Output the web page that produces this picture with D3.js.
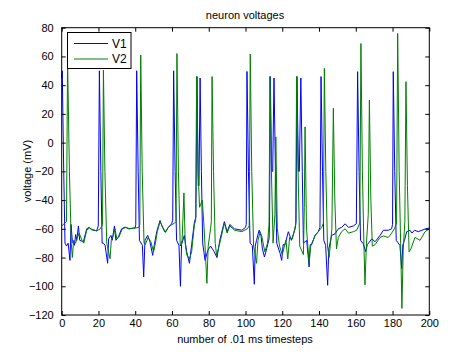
<!DOCTYPE html>
<html><head><meta charset="utf-8">
<script src="https://cdn.jsdelivr.net/npm/d3@7"></script>
<style>body{margin:0;background:#fff}svg{display:block}text{font-family:"Liberation Sans",Arial,sans-serif;fill:#000}</style>
</head><body>
<svg id="c" width="474" height="354"></svg>
<script>
const title = "neuron voltages";
const xLabel = "number of .01 ms timesteps";
const yLabel = "voltage (mV)";
const seriesNames = ["V1", "V2"];
const xTicks = [0, 20, 40, 60, 80, 100, 120, 140, 160, 180, 200];
const yTicks = [-120, -100, -80, -60, -40, -20, 0, 20, 40, 60, 80];

// V1 (blue): [timestep, voltage]
const v1 = [[0,45],[0.3,50],[1.1,-20],[1.8,-70],[2.6,-72],[3.5,-70],[4.5,-82],[5.1,-57],[5.8,-69],[6.9,-71.5],[7.6,-64],[8.2,-68],[9.1,-58],[9.8,-68],[11.8,-69],[13.6,-60],[14.9,-59],[16.3,-60.7],[19,-61.4],[19.9,-58],[20.5,50],[21.3,-20],[22,-70],[22.7,-70],[23.6,-71.5],[25,-84],[25.5,-67],[26.8,-64.6],[27.5,-68],[28.7,-58],[29.5,-68],[30.8,-65.8],[32.6,-60],[34.5,-58.8],[36.3,-60],[40,-59.3],[40.3,-57],[40.8,50],[41.6,-20],[42.3,-68],[43.9,-71.5],[44.6,-93.5],[45.3,-68],[46.8,-64.6],[48,-69],[49.5,-78.5],[50.4,-71],[51.7,-62],[53.5,-54.2],[54.8,-59],[56.2,-62.3],[58,-59],[59.8,-56.5],[60.4,-54],[60.9,50],[61.7,-20],[62.5,-68],[63.8,-71.5],[64.6,-100],[65.2,-71],[66.7,-64.6],[68,-76],[69.5,-84],[70.7,-71],[72.2,-55.4],[73,-52],[73.6,46],[74.3,-30],[74.7,-30],[75.3,45],[76,-20],[76.7,-70],[78,-82],[79.5,-75],[81,-72],[83,-76],[84.5,-80],[86,-68],[88.5,-55],[90,-62],[91.5,-57],[94,-60],[98,-61],[100,-59],[100.4,-57],[100.8,49.5],[101.6,-20],[102.5,-70],[103.7,-71.5],[104.8,-98.6],[105.3,-72],[106,-68],[107.4,-61],[108.4,-64.6],[109.2,-74],[110.3,-79.6],[111.5,-74],[112.8,-67],[113.1,-55],[113.5,46],[114.2,-20],[114.8,-20],[115.5,45],[116.3,-20],[117,-70],[118.8,-77],[119.7,-82],[120.5,-71],[121.5,-71],[123.3,-62],[125,-68],[127,-60],[127.5,-55],[128,46],[128.8,-20],[129.3,-20],[130.1,45],[130.9,-20],[131.5,-70],[133.3,-68],[134.6,-86.5],[135.2,-71],[136,-71],[137.8,-64.6],[139.6,-62],[140.5,-59],[141.1,46],[141.9,-20],[142.6,-68],[143.6,-71.5],[144.7,-99.3],[145.3,-74],[146.9,-64.6],[148.7,-63.5],[150.5,-60],[152.3,-59],[154.2,-56.5],[156,-59],[158.7,-58],[160.3,-56.5],[161,49.4],[161.8,-20],[162.6,-68],[164.1,-70.5],[165.4,-76],[166.3,-71],[168.7,-67],[170.5,-69],[173.2,-64.6],[175,-61],[177.7,-61],[179.5,-60],[180,-57],[180.4,49.4],[181.2,-20],[182,-68],[184,-71.5],[185,-87.7],[185.6,-71],[186.5,-68],[187.7,-62],[189.5,-61],[190.5,-63],[192,-61],[194,-62],[196,-61],[198,-60],[200,-59.5]];

// V2 (green): [timestep, voltage]
const v2 = [[0,-58],[2.6,-55],[3.2,57.5],[4.2,-20],[5.2,-70],[5.8,-80],[6.5,-68],[7.5,-70],[8.5,-66],[9.5,-63],[11,-68],[12,-70],[13.6,-61],[15,-59.5],[17,-60.5],[19,-61.5],[21,-60],[22.2,-57],[22.7,50.5],[23.5,-20],[24.5,-70],[26.3,-80.8],[27,-68],[28,-65],[29,-60],[30,-67],[31,-66],[33,-60],[35,-59],[37,-60],[40,-59.5],[42,-59],[42.5,-57],[43,61],[43.8,-20],[44.8,-70],[45.5,-71],[47,-66],[48.5,-69],[50,-76],[51,-70],[52,-62],[53.5,-55],[55,-59],[56.5,-62.5],[58,-59],[60,-57],[61.5,-56],[62.2,-55],[62.7,62],[63.5,-20],[64.5,-72],[65.5,-68],[66.5,-35],[67.2,-70],[68,-78],[69.5,-81],[70.7,-76],[72.2,-57],[72.9,-54],[73.4,46],[74.2,-20],[75,-45],[76.5,-40],[77.5,-60],[79,-98],[79.7,-72],[81,-60],[81.4,-55],[81.8,46],[82.6,-20],[83.5,-70],[84.3,-78.5],[86,-70],[88.5,-56],[90,-63],[91.5,-58],[94,-61],[98,-62],[101,-60],[102,-58],[102.6,61.7],[103.4,-20],[104.4,-72],[106,-84],[106.8,-68],[108,-62],[109,-66],[110.5,-76],[112,-70],[112.8,-57],[113.3,46],[114.1,-20],[115,-70],[116,-50],[116.5,4],[117.3,-60],[118.5,-72],[120,-78],[122,-68],[123,-81],[124,-66],[125.5,-67],[127.3,-57],[127.8,46],[128.6,-20],[129.5,-72],[131.5,-78],[132,-45],[132.4,11],[133.2,-60],[134.6,-84],[135.5,-72],[137.8,-65],[139.6,-62],[141.5,-59],[142.4,-56],[142.9,51.7],[143.7,-20],[144.6,-72],[145.5,-80],[147,-60],[147.8,23.9],[148.6,-40],[149.5,-74],[150.5,-66],[152.3,-62],[154.2,-60],[156,-63],[158.7,-62],[160.5,-61],[162.2,-56],[162.8,69],[163.6,-20],[164.4,-70],[165,-99],[165.8,-70],[166.8,-50],[167.4,29.7],[168.2,-40],[169,-72],[170.5,-71],[173.2,-66],[175,-65],[177.7,-66],[179.5,-63],[181,-60],[182.2,-56],[182.8,76],[183.6,-20],[184.4,-70],[185.1,-115.4],[185.8,-75],[186.7,-55],[187.3,42.4],[188.1,-30],[189,-76],[190,-74],[192.2,-66],[195,-68],[197.7,-62],[200,-60]];

const colors = ["#0000ff", "#008000"];

const svg = d3.select("#c");
const L = 61.7, R = 429.3, T = 27.7, B = 315;
const x = d3.scaleLinear().domain([0, 200]).range([L, R]);
const y = d3.scaleLinear().domain([-120, 80]).range([B, T]);

const line = d3.line().x(d => x(d[0])).y(d => y(d[1]));
const g = svg.append("g");
[v1, v2].forEach((s, i) => {
  g.append("path").datum(s).attr("d", line).attr("fill", "none")
    .attr("stroke", colors[i]).attr("stroke-width", 1).attr("stroke-linejoin", "miter");
});

// box
svg.append("rect").attr("x", L).attr("y", T).attr("width", R - L).attr("height", B - T)
  .attr("fill", "none").attr("stroke", "#000").attr("stroke-width", 1);

const tl = 4;
const ax = svg.append("g").attr("transform", `translate(0,${B})`)
  .call(d3.axisBottom(x).tickValues(xTicks).tickSizeInner(-tl).tickSizeOuter(0).tickPadding(4));
const axT = svg.append("g").attr("transform", `translate(0,${T})`)
  .call(d3.axisTop(x).tickValues(xTicks).tickSizeInner(-tl).tickSizeOuter(0).tickFormat(""));
const ay = svg.append("g").attr("transform", `translate(${L},0)`)
  .call(d3.axisLeft(y).tickValues(yTicks).tickSizeInner(-tl).tickSizeOuter(0).tickPadding(8));
const ayR = svg.append("g").attr("transform", `translate(${R},0)`)
  .call(d3.axisRight(y).tickValues(yTicks).tickSizeInner(-tl).tickSizeOuter(0).tickFormat(""));
[ax, axT, ay, ayR].forEach(a => {
  a.select(".domain").remove();
  a.selectAll("line").attr("stroke", "#000");
  a.selectAll("text").attr("font-size", 11).attr("font-family", "Liberation Sans, Arial, sans-serif").attr("fill", "#000");
});

svg.append("text").attr("x", 245).attr("y", 19).attr("text-anchor", "middle").attr("font-size", 11).text(title);
svg.append("text").attr("x", 245).attr("y", 343).attr("text-anchor", "middle").attr("font-size", 11).text(xLabel);
svg.append("text").attr("transform", "translate(31,171) rotate(-90)").attr("text-anchor", "middle").attr("font-size", 11).text(yLabel);

// legend
const lg = svg.append("g");
lg.append("rect").attr("x", 67.5).attr("y", 32.5).attr("width", 63.5).attr("height", 36)
  .attr("fill", "#fff").attr("stroke", "#000").attr("stroke-width", 1);
seriesNames.forEach((n, i) => {
  const yy = 43.5 + i * 15.5;
  lg.append("line").attr("x1", 74).attr("x2", 108).attr("y1", yy).attr("y2", yy).attr("stroke", colors[i]).attr("stroke-width", 1);
  lg.append("text").attr("x", 112).attr("y", yy + 4).attr("font-size", 12).text(n);
});
</script>
</body></html>
